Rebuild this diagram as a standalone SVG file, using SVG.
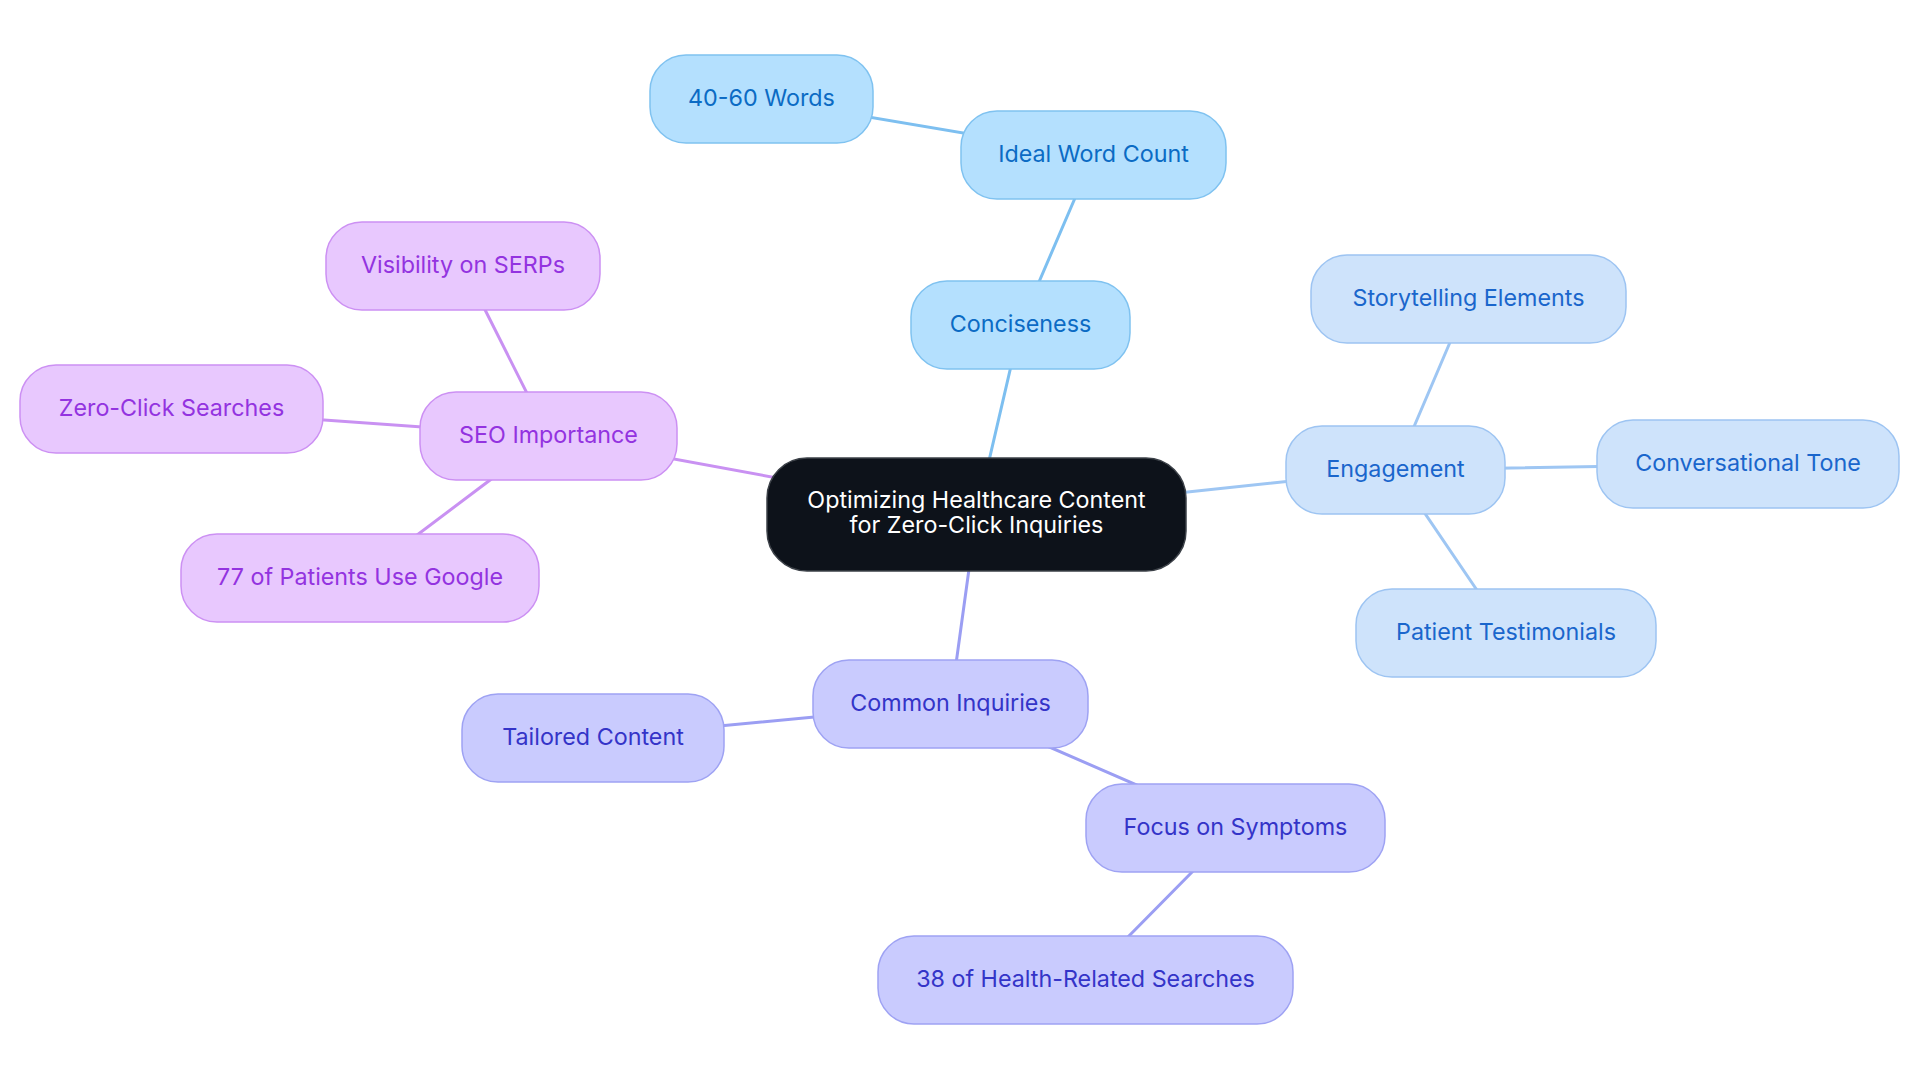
<svg xmlns="http://www.w3.org/2000/svg" width="1920" height="1083" viewBox="0 0 1920 1083">
<style>
text{font-family:Inter,"Noto Sans","Liberation Sans",sans-serif;font-size:23.3px;text-anchor:middle}
.e{fill:none;stroke-width:3;stroke-linecap:round}
.eb{stroke:#7dbff0}.ee{stroke:#9ec6f3}.ep{stroke:#c991f2}.ei{stroke:#9b9ef3}
.nb rect{fill:#b4e0fe;stroke:#7fc2f0;stroke-width:1.5}.nb text{fill:#0b6bc4}
.ne rect{fill:#cee3fb;stroke:#9dc4f2;stroke-width:1.5}.ne text{fill:#1a66cc}
.np rect{fill:#e8c8fe;stroke:#cc90f3;stroke-width:1.5}.np text{fill:#9333e0}
.ni rect{fill:#c9cbfe;stroke:#9ea2f3;stroke-width:1.5}.ni text{fill:#3434c8}
.root rect{fill:#0d121a;stroke:#3c4148;stroke-width:1.5}.root text{fill:#ffffff}
</style>
<rect width="1920" height="1083" fill="#ffffff"/>
<g id="connectors">
<line class="e eb" x1="976.5" y1="514.5" x2="1020.5" y2="325"/>
<line class="e eb" x1="1020.5" y1="325" x2="1093.5" y2="155"/>
<line class="e eb" x1="1093.5" y1="155" x2="761.5" y2="99"/>
<line class="e ee" x1="976.5" y1="514.5" x2="1395.5" y2="470"/>
<line class="e ee" x1="1395.5" y1="470" x2="1468.5" y2="299"/>
<line class="e ee" x1="1395.5" y1="470" x2="1748" y2="464"/>
<line class="e ee" x1="1395.5" y1="470" x2="1506" y2="633"/>
<line class="e ep" x1="976.5" y1="514.5" x2="548.5" y2="436"/>
<line class="e ep" x1="548.5" y1="436" x2="463" y2="266"/>
<line class="e ep" x1="548.5" y1="436" x2="171.5" y2="409"/>
<line class="e ep" x1="548.5" y1="436" x2="360" y2="578"/>
<line class="e ei" x1="976.5" y1="514.5" x2="950.5" y2="704"/>
<line class="e ei" x1="950.5" y1="704" x2="593" y2="738"/>
<line class="e ei" x1="950.5" y1="704" x2="1235.5" y2="828"/>
<line class="e ei" x1="1235.5" y1="828" x2="1085.5" y2="980"/>
</g>
<g id="root" class="root"><rect x="767" y="458" width="419" height="113" rx="40"/><text x="976.5" y="507.5">Optimizing Healthcare Content</text><text x="976.5" y="533">for Zero-Click Inquiries</text></g>
<g id="conciseness" class="nb"><rect x="911" y="281" width="219" height="88" rx="36"/><text x="1020.5" y="332">Conciseness</text></g>
<g id="ideal-word-count" class="nb"><rect x="961" y="111" width="265" height="88" rx="36"/><text x="1093.5" y="162">Ideal Word Count</text></g>
<g id="words-40-60" class="nb"><rect x="650" y="55" width="223" height="88" rx="36"/><text x="761.5" y="106">40-60 Words</text></g>
<g id="engagement" class="ne"><rect x="1286" y="426" width="219" height="88" rx="36"/><text x="1395.5" y="477">Engagement</text></g>
<g id="storytelling" class="ne"><rect x="1311" y="255" width="315" height="88" rx="36"/><text x="1468.5" y="306">Storytelling Elements</text></g>
<g id="conversational" class="ne"><rect x="1597" y="420" width="302" height="88" rx="36"/><text x="1748" y="471">Conversational Tone</text></g>
<g id="testimonials" class="ne"><rect x="1356" y="589" width="300" height="88" rx="36"/><text x="1506" y="640">Patient Testimonials</text></g>
<g id="seo" class="np"><rect x="420" y="392" width="257" height="88" rx="36"/><text x="548.5" y="443">SEO Importance</text></g>
<g id="visibility" class="np"><rect x="326" y="222" width="274" height="88" rx="36"/><text x="463" y="273">Visibility on SERPs</text></g>
<g id="zero-click" class="np"><rect x="20" y="365" width="303" height="88" rx="36"/><text x="171.5" y="416">Zero-Click Searches</text></g>
<g id="patients-google" class="np"><rect x="181" y="534" width="358" height="88" rx="36"/><text x="360" y="585">77 of Patients Use Google</text></g>
<g id="common" class="ni"><rect x="813" y="660" width="275" height="88" rx="36"/><text x="950.5" y="711">Common Inquiries</text></g>
<g id="tailored" class="ni"><rect x="462" y="694" width="262" height="88" rx="36"/><text x="593" y="745">Tailored Content</text></g>
<g id="symptoms" class="ni"><rect x="1086" y="784" width="299" height="88" rx="36"/><text x="1235.5" y="835">Focus on Symptoms</text></g>
<g id="health-searches" class="ni"><rect x="878" y="936" width="415" height="88" rx="36"/><text x="1085.5" y="987">38 of Health-Related Searches</text></g>
</svg>
